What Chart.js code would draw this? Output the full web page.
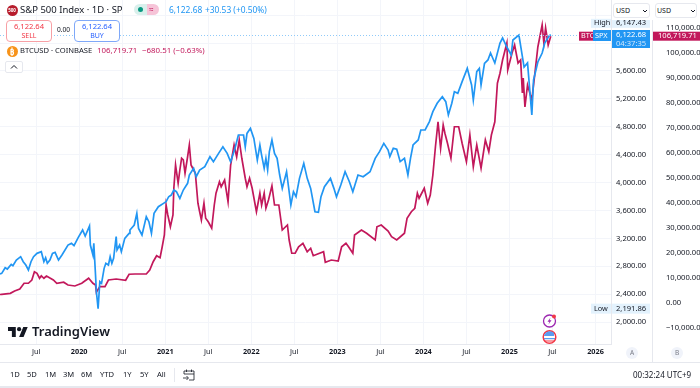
<!DOCTYPE html>
<html><head><meta charset="utf-8">
<script src="https://cdn.jsdelivr.net/npm/chart.js@4"></script>
<style>
html,body{margin:0;padding:0;background:#fff;width:700px;height:388px;overflow:hidden}
body{position:relative;font-family:"Noto Sans",sans-serif;color:#131722}
#c{position:absolute;left:0;top:0}
.t{position:absolute;white-space:nowrap;line-height:1}
.b{position:absolute;box-sizing:border-box}
</style></head><body>
<canvas id="c" width="700" height="388"></canvas>

<div class="b" style="left:6.5px;top:4.5px;width:11px;height:11px;border-radius:50%;background:#b71c2c;color:#fff;font-size:4.5px;font-weight:700;text-align:center;line-height:11px">500</div>
<div class="t" style="left:20px;top:4.5px;font-size:9.5px">S&amp;P 500 Index · 1D · SP</div>
<div class="b" style="left:134px;top:4px;width:13px;height:11px;background:#d9f0ec;border-radius:6px 0 0 6px"></div>
<div class="b" style="left:147px;top:4px;width:12px;height:11px;background:#f6c4d8;border-radius:0 6px 6px 0"></div>
<div class="b" style="left:138px;top:7px;width:5px;height:5px;background:#089981;border-radius:50%"></div>
<div class="t" style="left:149px;top:4.5px;font-size:8px;color:#c2185b">≈</div>
<div class="t" style="left:169px;top:6px;font-size:8.4px;color:#2196f3">6,122.68</div>
<div class="t" style="left:205px;top:6px;font-size:8.4px;color:#2196f3">+30.53 (+0.50%)</div>

<div class="b" style="left:6px;top:20px;width:46px;height:22px;border:1px solid #f7a0a5;border-radius:4px;background:#fff"></div>
<div class="t" style="left:6px;width:46px;text-align:center;top:23px;font-size:7.6px;color:#f23645">6,122.64</div>
<div class="t" style="left:6px;width:46px;text-align:center;top:32px;font-size:7px;color:#f23645">SELL</div>
<div class="t" style="left:57px;top:27px;font-size:6.6px">0.00</div>
<div class="b" style="left:74px;top:20px;width:46px;height:22px;border:1px solid #7fa8f8;border-radius:4px;background:#fff"></div>
<div class="t" style="left:74px;width:46px;text-align:center;top:23px;font-size:7.6px;color:#2962ff">6,122.64</div>
<div class="t" style="left:74px;width:46px;text-align:center;top:32px;font-size:7px;color:#2962ff">BUY</div>

<div class="b" style="left:6.5px;top:45.5px;width:11px;height:11px;border-radius:50%;background:#f7931a;color:#fff;font-size:8px;font-weight:700;text-align:center;line-height:11px">₿</div>
<div class="t" style="left:20px;top:47px;font-size:7.6px">BTCUSD · COINBASE</div>
<div class="t" style="left:97px;top:47px;font-size:7.9px;color:#c2185b">106,719.71</div>
<div class="t" style="left:142px;top:47px;font-size:7.9px;color:#c2185b">−680.51 (−0.63%)</div>
<div class="b" style="left:5px;top:61px;width:18px;height:12px;border:1px solid #e6e8ee;border-radius:2px;background:#fff"></div>
<svg class="b" style="left:10px;top:64px" width="8" height="6"><path d="M1 4.5 4 1.5 7 4.5" fill="none" stroke="#131722" stroke-width="1"/></svg>

<div class="b" style="left:612px;top:0;width:88px;height:20px;background:#fff"></div>
<div class="b" style="left:613px;top:3px;width:37px;height:15px;border:1px solid #e6e8ee;border-radius:3px"></div>
<div class="b" style="left:655px;top:3px;width:42px;height:15px;border:1px solid #e6e8ee;border-radius:3px"></div>
<div class="t" style="left:616px;top:7px;font-size:7px">USD</div>
<div class="t" style="left:657px;top:7px;font-size:7px">USD</div>
<svg class="b" style="left:642px;top:9px" width="6" height="4"><path d="M1 1 3 3 5 1" fill="none" stroke="#131722"/></svg>
<svg class="b" style="left:690px;top:9px" width="6" height="4"><path d="M1 1 3 3 5 1" fill="none" stroke="#131722"/></svg>

<svg class="b" style="left:8px;top:327px" width="20" height="10" viewBox="0 0 36 18"><path d="M14 18H7V7H0V0h14zM28 18h-8L27.5 0h8z" fill="#131722"/><circle cx="20" cy="4" r="3.8" fill="#131722"/></svg>
<div class="t" style="left:32px;top:325px;font-size:13px;font-weight:600;color:#131722">TradingView</div>

<svg class="b" style="left:541px;top:313px" width="18" height="34" viewBox="0 0 18 34">
<circle cx="8.5" cy="8" r="6" fill="#fff" stroke="#9c27b0" stroke-width="1.3"/><path d="M9.5 4.5 6.5 8.7H8.4L7.5 11.5 10.5 7.3H8.6z" fill="#9c27b0"/><circle cx="13" cy="3.5" r="2" fill="#f23645"/>
<circle cx="8.5" cy="24" r="6.3" fill="#fff" stroke="#f23645" stroke-width="1.5"/><path d="M3 22.5A6 6 0 0 1 13 20V23H3zM3 25h11v1.2H3z" fill="#5b9cf0"/><path d="M4 27.5h9v1H4z" fill="#f23645"/></svg>

<div class="b" style="left:0;top:362px;width:700px;height:1px;background:#e6e8ee"></div>
<div class="b" style="left:0;top:386px;width:700px;height:2px;background:#e6e8ee"></div>
<div class="t" style="left:10px;top:371px;font-size:7.6px">1D</div>
<div class="t" style="left:27px;top:371px;font-size:7.6px">5D</div>
<div class="t" style="left:45px;top:371px;font-size:7.6px">1M</div>
<div class="t" style="left:63px;top:371px;font-size:7.6px">3M</div>
<div class="t" style="left:81px;top:371px;font-size:7.6px">6M</div>
<div class="t" style="left:100px;top:371px;font-size:7.6px">YTD</div>
<div class="t" style="left:123px;top:371px;font-size:7.6px">1Y</div>
<div class="t" style="left:140px;top:371px;font-size:7.6px">5Y</div>
<div class="t" style="left:157px;top:371px;font-size:7.6px">All</div>
<div class="b" style="left:174px;top:368px;width:1px;height:14px;background:#e6e8ee"></div>
<svg class="b" style="left:182px;top:368px" width="14" height="14" viewBox="0 0 14 14"><path d="M2 6V3h10v9H7M2 6h10M4.5 1.5v2.5M9.5 1.5v2.5M1 10h5M4.5 8l2 2-2 2" fill="none" stroke="#131722" stroke-width=".8"/></svg>
<div class="t" style="left:633px;top:371px;font-size:8px">00:32:24 UTC+9</div>

<script>
const spxDates=[2019.08,2019.10,2019.14,2019.165,2019.21,2019.23,2019.27,2019.32,2019.35,2019.38,2019.41,2019.44,2019.47,2019.51,2019.56,2019.59,2019.61,2019.63,2019.66,2019.69,2019.72,2019.76,2019.80,2019.87,2019.91,2019.94,2019.99,2020.04,2020.07,2020.12,2020.13,2020.16,2020.17,2020.19,2020.20,2020.22,2020.24,2020.26,2020.29,2020.31,2020.34,2020.36,2020.38,2020.40,2020.43,2020.44,2020.47,2020.49,2020.53,2020.58,2020.59,2020.64,2020.67,2020.69,2020.73,2020.78,2020.81,2020.84,2020.87,2020.92,2020.98,2021.01,2021.04,2021.07,2021.10,2021.13,2021.17,2021.21,2021.26,2021.28,2021.33,2021.36,2021.40,2021.46,2021.52,2021.56,2021.62,2021.67,2021.72,2021.76,2021.81,2021.85,2021.91,2021.93,2021.95,2021.99,2022.03,2022.07,2022.10,2022.12,2022.15,2022.17,2022.19,2022.21,2022.24,2022.27,2022.30,2022.33,2022.36,2022.41,2022.46,2022.49,2022.52,2022.56,2022.61,2022.65,2022.69,2022.74,2022.78,2022.81,2022.85,2022.92,2022.96,2022.99,2023.04,2023.09,2023.14,2023.18,2023.24,2023.30,2023.38,2023.44,2023.49,2023.54,2023.59,2023.61,2023.65,2023.69,2023.73,2023.78,2023.82,2023.85,2023.88,2023.94,2023.97,2024.02,2024.07,2024.11,2024.16,2024.22,2024.26,2024.29,2024.33,2024.36,2024.40,2024.45,2024.51,2024.56,2024.58,2024.62,2024.65,2024.67,2024.71,2024.75,2024.78,2024.83,2024.89,2024.92,2024.97,2025.02,2025.04,2025.11,2025.17,2025.21,2025.26,2025.28,2025.33,2025.38,2025.41,2025.46,2025.48];
const spxValues=[2690,2698,2779,2760,2827,2808,2889,2937,2865,2818,2746,2865,2937,2985,3009,2865,2923,2842,2889,2985,3000,2889,2961,3104,3128,3095,3214,3320,3233,3377,3104,2961,3128,2674,2435,2192,2579,2555,2770,2842,2818,2937,2842,2913,3224,3033,3104,3009,3200,3272,3319,3391,3558,3343,3248,3511,3439,3271,3558,3654,3702,3726,3797,3821,3893,3869,3773,3893,3989,4108,4204,4084,4180,4227,4371,4299,4419,4514,4419,4299,4490,4682,4682,4514,4705,4777,4634,4323,4538,4395,4204,4347,4180,4443,4610,4419,4347,4108,3917,4156,3678,3869,3797,4060,4275,4060,3917,3582,3573,3797,3941,4060,3917,3797,3965,4156,4012,3869,4108,4084,4156,4347,4443,4562,4466,4372,4491,4477,4300,4348,4109,4348,4539,4611,4754,4754,4874,5017,5137,5232,5160,4969,5137,5304,5280,5447,5638,5400,5184,5591,5638,5400,5710,5758,5858,5715,6001,6073,5944,5829,6044,6116,5657,5715,4969,5471,5729,5858,6001,6100,6122.68];
const btcDates=[2019.08,2019.10,2019.20,2019.25,2019.31,2019.36,2019.41,2019.45,2019.48,2019.51,2019.54,2019.56,2019.59,2019.62,2019.70,2019.74,2019.82,2019.87,2019.95,2020.03,2020.11,2020.16,2020.19,2020.20,2020.24,2020.30,2020.34,2020.43,2020.54,2020.58,2020.65,2020.78,2020.82,2020.86,2020.90,2020.94,2020.965,2020.99,2021.01,2021.03,2021.06,2021.09,2021.10,2021.12,2021.15,2021.17,2021.19,2021.21,2021.23,2021.26,2021.28,2021.30,2021.33,2021.35,2021.38,2021.40,2021.42,2021.45,2021.47,2021.50,2021.54,2021.57,2021.59,2021.63,2021.65,2021.69,2021.73,2021.76,2021.80,2021.83,2021.86,2021.89,2021.93,2021.95,2021.98,2022.01,2022.06,2022.10,2022.12,2022.15,2022.17,2022.20,2022.24,2022.27,2022.32,2022.36,2022.42,2022.44,2022.47,2022.51,2022.55,2022.60,2022.65,2022.69,2022.72,2022.84,2022.86,2022.93,2023.01,2023.05,2023.10,2023.13,2023.18,2023.20,2023.28,2023.34,2023.44,2023.46,2023.51,2023.59,2023.63,2023.69,2023.78,2023.81,2023.86,2023.90,2023.93,2023.95,2024.01,2024.05,2024.08,2024.11,2024.14,2024.17,2024.20,2024.23,2024.25,2024.28,2024.32,2024.36,2024.41,2024.45,2024.50,2024.54,2024.58,2024.62,2024.67,2024.72,2024.76,2024.79,2024.83,2024.86,2024.89,2024.92,2024.97,2024.98,2025.03,2025.06,2025.10,2025.13,2025.15,2025.16,2025.18,2025.21,2025.26,2025.30,2025.33,2025.38,2025.40,2025.42,2025.45,2025.48];
const btcValues=[3400,3470,3870,4800,5600,7900,7900,9200,12500,11900,9900,10900,9900,10800,9200,7900,8300,7200,6800,7900,9900,7900,7200,4280,6550,6550,9200,9600,9100,11500,11600,11600,13200,16500,18900,18150,22500,27200,39200,35200,30500,35200,45900,55200,47900,53200,57900,57200,51900,58500,63200,55200,53200,51900,39900,36500,33200,39900,33900,32500,29900,39200,43900,48500,46500,49200,40500,55200,63200,58500,65200,57900,49900,46500,49900,45900,36500,43900,39200,43900,37900,41200,46900,39200,39200,29200,31200,25200,19900,19900,22500,23900,20500,21900,18900,20500,16300,17200,16800,22500,23900,22500,19900,27200,29200,27900,25200,30500,31200,28800,26500,25200,27900,33900,36500,37900,43900,41900,45900,39900,43200,51200,62500,72500,61900,71200,67900,63900,57900,70500,70500,63900,56500,67200,54500,63200,53900,65200,60500,67200,72500,87900,91900,97200,104000,93200,100000,103200,96000,97200,84000,90000,78400,87200,81200,93200,102400,111200,104000,110000,103200,106719.71];
const timeTicks=[2019.5,2020,2020.5,2021,2021.5,2022,2022.5,2023,2023.5,2024,2024.5,2025,2025.5,2026];
const spxTicks=[2000,2400,2800,3200,3600,4000,4400,4800,5200,5600,6000,6400];
const btcTicks=[-10000,0,10000,20000,30000,40000,50000,60000,70000,80000,90000,100000,110000];
const spxLast=6122.68, btcLast=106719.71, spxHigh=6147.43, spxLow=2191.86;

const BLUE='#2196f3',RED='#c2185b',INK='#131722',GRID='#f3f5fa',LINE='#e6e8ee';
const FONT='"Noto Sans",sans-serif';
const fmt=v=>{const s=Math.abs(v).toLocaleString('en-US',{minimumFractionDigits:2,maximumFractionDigits:2});return (v<0?'−':'')+s;};
const toPts=(xs,ys)=>xs.map((x,i)=>({x,y:ys[i]}));
const noPad=s=>{s.paddingTop=0;s.paddingBottom=0;s.paddingLeft=0;s.paddingRight=0;};
function box(ctx,x,y,w,h,fill,text,color,tx,align,size){
  ctx.fillStyle=fill;ctx.fillRect(x,y,w,h);
  if(text){ctx.fillStyle=color;ctx.font=size+'px '+FONT;ctx.textAlign=align||'left';ctx.textBaseline='middle';ctx.fillText(text,tx,y+h/2);}
}
const tags={id:'tags',afterDraw(ch){
  const c=ch.ctx,a=ch.scales.yA,b=ch.scales.yB,r=ch.chartArea;
  c.save();
  c.strokeStyle='#90caf9';c.lineWidth=1;c.setLineDash([1,2]);
  const ly=Math.round(a.getPixelForValue(spxLast))+.5;
  c.beginPath();c.moveTo(0,ly);c.lineTo(r.right,ly);c.stroke();c.setLineDash([]);
  c.strokeStyle=LINE;c.beginPath();c.moveTo(652.5,0);c.lineTo(652.5,362);c.stroke();
  const by=b.getPixelForValue(btcLast),hy=a.getPixelForValue(spxHigh),ry=a.getPixelForValue(spxLow);
  box(c,591,hy-14,20,9,'#e3f2fd','High',INK,594,'left',7.3);
  box(c,612,hy-14,38,9,'#e3f2fd',fmt(spxHigh),INK,616,'left',7.6);
  box(c,591,ry-5,20,10,'#e3f2fd','Low',INK,594,'left',7.3);
  box(c,612,ry-5,38,10,'#e3f2fd',fmt(spxLow),INK,616,'left',7.6);
  box(c,579,by-4.5,18,9,RED,'BTC','#fff',581,'left',7.3);
  box(c,593,ly-5.5,18,11,BLUE,'SPX','#fff',595,'left',7.3);
  box(c,612,ly-5.5,38,18,BLUE,'','',0);
  c.fillStyle='#fff';c.font='7.6px '+FONT;c.textAlign='left';c.textBaseline='middle';c.fillText(fmt(spxLast),616,ly-.5);
  c.fillStyle='#cfe6fb';c.fillText('04:37:35',616,ly+8);
  box(c,653,by-4.5,47,9,RED,fmt(btcLast),'#fff',658,'left',7.6);
  [632,677].forEach((x,i)=>{c.fillStyle='#f0f3fa';c.beginPath();c.arc(x,353,6,0,7);c.fill();c.fillStyle='#787b86';c.font='6.5px '+FONT;c.textAlign='center';c.fillText(i?'B':'A',x,353.5);});
  c.restore();
}};
new Chart(document.getElementById('c'),{
  type:'line',
  data:{datasets:[
    {label:'S&P 500',data:toPts(spxDates,spxValues),xAxisID:'x',yAxisID:'yA',borderColor:BLUE,borderWidth:1.7,pointRadius:0,tension:0},
    {label:'BTCUSD',data:toPts(btcDates,btcValues),xAxisID:'x',yAxisID:'yB',borderColor:RED,borderWidth:1.7,pointRadius:0,tension:0}
  ]},
  plugins:[tags],
  options:{
    responsive:false,animation:false,
    layout:{padding:{left:0,right:0,top:0,bottom:26}},
    plugins:{legend:{display:false},tooltip:{enabled:false}},
    scales:{
      x:{type:'linear',min:2019.08,max:2026.18,
        afterBuildTicks:s=>{s.ticks=timeTicks.map(value=>({value}));},
        afterFit:s=>{s.height=18;noPad(s);},
        grid:{color:GRID,drawTicks:false},border:{color:LINE},
        ticks:{autoSkip:false,maxRotation:0,padding:4,color:INK,
          font:ctx=>({family:FONT,size:7.3,weight:(ctx.tick&&ctx.tick.value%1===0)?'700':'400'}),
          callback:v=>v%1===0?String(v):'Jul'}},
      yA:{type:'linear',position:'right',min:1685,max:6618,
        afterBuildTicks:s=>{s.ticks=spxTicks.map(value=>({value}));},
        afterFit:s=>{s.width=41;noPad(s);},
        grid:{color:GRID,drawTicks:false},border:{color:LINE},
        ticks:{autoSkip:false,padding:5,color:INK,font:{family:FONT,size:7.6},callback:v=>v>5600?'':fmt(v)}},
      yB:{type:'linear',position:'right',min:-16400,max:121200,
        afterBuildTicks:s=>{s.ticks=btcTicks.map(value=>({value}));},
        afterFit:s=>{s.width=48;noPad(s);},
        grid:{display:false},border:{display:false},
        ticks:{autoSkip:false,padding:6,color:INK,font:{family:FONT,size:7.6},callback:v=>fmt(v)}}
    }
  }
});
</script>
</body></html>
